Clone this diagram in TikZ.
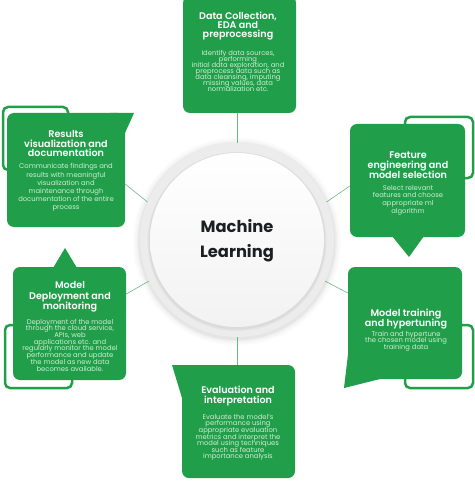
\documentclass[tikz,border=0pt]{standalone}
\usepackage{fontspec}
\setmainfont{Poppins}[BoldFont={Poppins SemiBold}]
\newfontfamily\mlfont{Poppins Bold}
\usetikzlibrary{calc}
\definecolor{gg}{RGB}{33,158,74}
\definecolor{bodytxt}{RGB}{208,238,214}
\definecolor{conn}{RGB}{105,185,125}
\definecolor{ringgray}{RGB}{236,236,236}
\definecolor{darktext}{RGB}{28,30,32}
\tikzset{
  gbox/.style={fill=gg, rounded corners=7pt, minimum width=#1, minimum height=113pt, inner sep=0pt},
  gbox/.default=113pt,
  outl/.style={draw=gg, line width=2.5pt, rounded corners=5pt, fill=white},
  gtri/.style={fill=gg},
  head/.style={text=white, align=center, font=\fontsize{9.6}{#1}\selectfont\bfseries},
  head/.default=9.9,
  bodyt/.style={text=bodytxt, align=center, font=\fontsize{6.8}{#1}\selectfont},
  bodyt/.default=6.7,
  conline/.style={draw=conn, line width=0.6pt},
}
\begin{document}
\lineskiplimit=-20pt\relax
\begin{tikzpicture}[x=1pt,y=-1pt]
\useasboundingbox (0,0) rectangle (474,481);
% centre circle
\foreach \r/\o in {104/0.015,102/0.02,100/0.03,98.5/0.04}{
  \fill[black,opacity=\o] (237,241.5) circle (\r pt);
}
\node[circle, fill=ringgray, minimum size=194pt, inner sep=0pt] (ml) at (237,240) {};
\fill[black,opacity=0.035] (237,241.5) circle (89.5pt);
\fill[black,opacity=0.03] (237,241) circle (88.5pt);
\shade[top color=white, bottom color={rgb,255:red,242;green,242;blue,242}] (237,240) circle (87pt);
\node[text=darktext, align=center, font=\mlfont\fontsize{16.3}{25}\selectfont] (mltext) at (237,241) {Machine\\Learning};

% outline rectangles behind
\draw[outl] (3,107) rectangle (68,170);
\draw[outl] (405,117) rectangle (473,178);
\draw[outl] (5,325) rectangle (72,388);
\draw[outl] (405,325) rectangle (473,388);

% boxes
\node[gbox, minimum height=117pt] (dc) at (239.5,54.5) {};
\node[gbox=118pt, minimum height=114pt] (res) at (66,170) {};
\fill[gtri] (110,113) -- (134,113) -- (125,133) -- cycle;
\node[gbox=115pt] (feat) at (407.5,180.5) {};
\fill[gtri] (392,236) -- (409,257) -- (424,236) -- cycle;
\node[gbox] (dep) at (69.5,323.5) {};
\fill[gtri] (53,268) -- (65,248) -- (77,268) -- cycle;
\node[gbox=114pt, minimum height=112pt] (train) at (405,323) {};
\fill[gtri] (348.5,350) -- (344,388) -- (380,379) -- cycle;
\node[gbox] (eval) at (238.5,421.5) {};
\fill[gtri] (172,365) -- (205,365) -- (182,398) -- cycle;

% connectors
\draw[conline] (ml.north |- dc.south) -- (ml.north);
\draw[conline] ([yshift=-14pt]res.east) -- (ml.157);
\draw[conline] ([yshift=-5.5pt]feat.west) -- (ml.23);
\draw[conline] ([yshift=29.5pt]dep.east) -- (ml.205);
\draw[conline] ([yshift=30pt]train.west) -- (ml.335);
\draw[conline] (ml.south) -- (ml.south |- eval.north);

% texts
\node[head=9.2] (dch) at (238,26) {Data Collection,\\EDA and\\preprocessing};
\node[bodyt=6.1] (dcb) at (238,71) {Identify data sources,\\performing\\initial data exploration, and\\preprocess data such as\\data cleansing, imputing\\missing values, data\\normalization etc.};

\node[head=9.6] (resh) at (66,143.5) {Results\\visualization and\\documentation};
\node[bodyt=8.1] (resb) at (66,187.5) {Communicate findings and\\results with meaningful\\visualization and\\maintenance through\\documentation of the entire\\process};

\node[head=10] (feath) at (408,165) {Feature\\engineering and\\model selection};
\node[bodyt=7.7] (featb) at (408,200) {Select relevant\\features and choose\\appropriate ml\\algorithm};

\node[head=10.5] (deph) at (70,297) {Model\\Deployment and\\monitoring};
\node[bodyt=6.7] (depb) at (70,345) {Deployment of the model\\through the cloud service,\\APIs, web\\applications etc. and\\regularly monitor the model\\performance and update\\the model as new data\\becomes available.};

\node[head=10] (trainh) at (406,319.5) {Model training\\and hypertuning};
\node[bodyt=6.6] (trainb) at (406,341) {Train and hypertune\\the chosen model using\\training data};

\node[head=10] (evalh) at (238,396) {Evaluation and\\interpretation};
\node[bodyt=6.6] (evalb) at (238,437.5) {Evaluate the model's\\performance using\\appropriate evaluation\\metrics and interpret the\\model using techniques\\such as feature\\importance analysis};
\end{tikzpicture}
\end{document}
